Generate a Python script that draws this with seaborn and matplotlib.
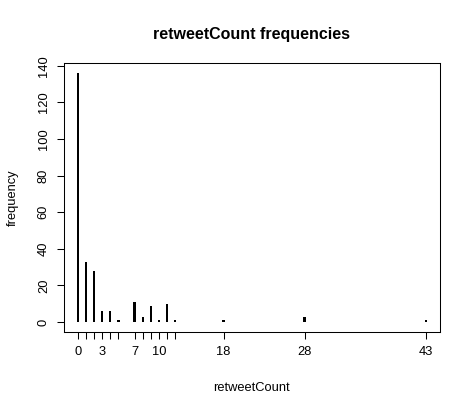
import pandas as pd
import seaborn as sns
import matplotlib.pyplot as plt

# retweet counts and how often each occurs
retweet_count = [0, 1, 2, 3, 4, 5, 7, 8, 9, 10, 11, 12, 18, 28, 43]
frequency = [136, 33, 28, 6, 6, 1, 11, 3, 9, 1, 10, 1, 1, 3, 1]
labelled_ticks = [0, 3, 7, 10, 18, 28, 43]
y_ticks = [0, 20, 40, 60, 80, 100, 120, 140]

df = pd.DataFrame({'retweetCount': retweet_count, 'frequency': frequency})

sns.set_style("white")
plt.rcParams['font.family'] = ['Liberation Sans', 'DejaVu Sans']
plt.rcParams['text.color'] = 'black'
plt.rcParams['axes.labelcolor'] = 'black'
plt.rcParams['xtick.color'] = 'black'
plt.rcParams['ytick.color'] = 'black'

fig = plt.figure(figsize=(4.74, 4.12), dpi=100)
ax = fig.add_axes([0.135, 0.194, 0.793, 0.653])

sns.barplot(data=df, x='retweetCount', y='frequency', native_scale=True,
            width=0.28, color='black', edgecolor='black', linewidth=0, ax=ax)

ax.set_xlim(-1.72, 44.72)
ax.set_ylim(-5.44, 141.44)

ax.set_xticks(retweet_count)
ax.set_xticklabels([str(v) if v in labelled_ticks else '' for v in retweet_count])
ax.set_yticks(y_ticks)
ax.set_yticklabels([str(v) for v in y_ticks], rotation=90, va='center')

ax.tick_params(axis='both', direction='out', length=5.2, width=0.75, colors='black',
               labelsize=9.3, pad=5, bottom=True, left=True)
for s in ax.spines.values():
    s.set_visible(True)
    s.set_color('black')
    s.set_linewidth(0.75)

ax.set_title('retweetCount frequencies', fontsize=11.5, fontweight='bold', pad=17, color='black')
ax.set_xlabel('retweetCount', fontsize=9.3, labelpad=17)
ax.set_ylabel('frequency', fontsize=9.3, labelpad=14)

plt.savefig('out.png', dpi=100)
